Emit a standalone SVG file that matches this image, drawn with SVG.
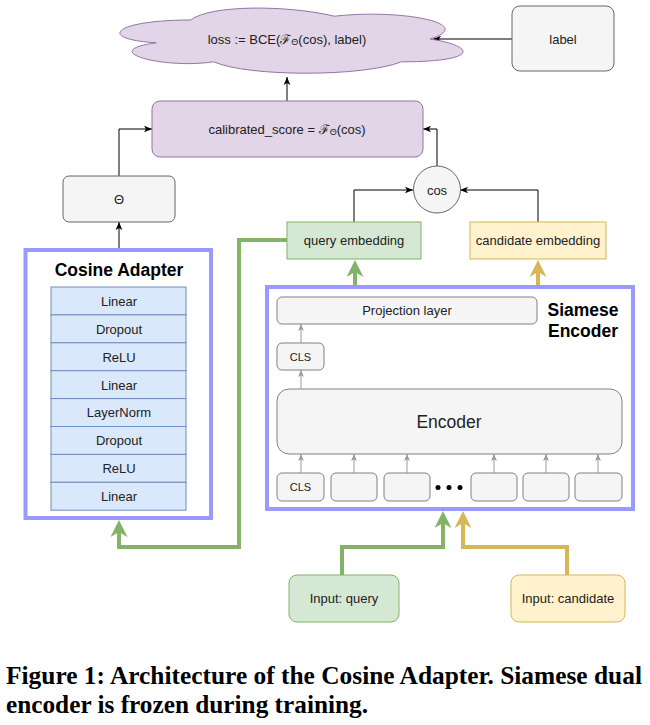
<svg xmlns="http://www.w3.org/2000/svg" width="650" height="725" viewBox="0 0 650 725">
<style>
text{font-family:"Liberation Sans",Arial,sans-serif;font-size:13px;fill:#222;text-anchor:middle;dominant-baseline:central}
.bold{font-weight:bold;font-size:17.5px;fill:#000}
.big{font-size:17.5px}
.small{font-size:11px}
.sub{font-size:9px}
.gray{fill:#f5f5f5;stroke:#666;stroke-width:1}
.tok{fill:#f5f5f5;stroke:#808080;stroke-width:1}
.purple{fill:#e1d5e7;stroke:#9673a6;stroke-width:1}
.green{fill:#d5e8d4;stroke:#82b366;stroke-width:1}
.yellow{fill:#fff2cc;stroke:#d6b656;stroke-width:1}
.layer{fill:#dae8fc;stroke:#6c8ebf;stroke-width:1}
.frame{fill:#fff;stroke:#9999ff;stroke-width:4}
.ck{fill:none;stroke:#000;stroke-width:1;marker-end:url(#aK)}
.cl{fill:none;stroke:#555;stroke-width:1.4;marker-end:url(#aK)}
.cg{fill:none;stroke:#999;stroke-width:1;marker-end:url(#aG)}
.cgr{fill:none;stroke:#82b366;stroke-width:4;marker-end:url(#aGr)}
.cy{fill:none;stroke:#d6b656;stroke-width:4;marker-end:url(#aY)}
.cap{font-family:"Liberation Serif","Times New Roman",serif;font-weight:bold;font-size:24.5px;fill:#000;text-anchor:start;dominant-baseline:auto}
</style>
<defs>
<marker id="aK" viewBox="0 0 10 10" refX="10" refY="5" markerWidth="8" markerHeight="8" markerUnits="userSpaceOnUse" orient="auto"><path d="M0,0.8 L10,5 L0,9.2 L2.5,5 Z" fill="#000"/></marker>
<marker id="aG" viewBox="0 0 10 10" refX="10" refY="5" markerWidth="7" markerHeight="7" markerUnits="userSpaceOnUse" orient="auto"><path d="M0,0.8 L10,5 L0,9.2 L2.5,5 Z" fill="#999"/></marker>
<marker id="aGr" viewBox="0 0 10 10" refX="3" refY="5" markerWidth="17" markerHeight="17" markerUnits="userSpaceOnUse" orient="auto"><path d="M0,0 L10,5 L0,10 L3,5 Z" fill="#82b366"/></marker>
<marker id="aY" viewBox="0 0 10 10" refX="3" refY="5" markerWidth="17" markerHeight="17" markerUnits="userSpaceOnUse" orient="auto"><path d="M0,0 L10,5 L0,10 L3,5 Z" fill="#d6b656"/></marker>
</defs>

<g id="connectors">
<path class="cl" d="M512,39 H433"/>
<path class="ck" d="M287,101 V77"/>
<path class="ck" d="M119,176 V129 H152"/>
<path class="ck" d="M119,248 V222"/>
<path class="ck" d="M437,166 V129 H423"/>
<path class="ck" d="M354,222 V190 H413"/>
<path class="ck" d="M538,222 V190 H460"/>
<path class="cgr" d="M287,240 H239 V547 H119 V532"/>
<path class="cgr" d="M355,285 V272"/>
<path class="cy" d="M538,285 V272"/>
<path class="cgr" d="M342,575 V547 H443 V523"/>
<path class="cy" d="M567,575 V547 H463 V523"/>
</g>

<g id="loss">
<path class="purple" d="M190.75,20 C114.15,20 95,39 156.28,42.8 C95,51.16 163.94,69.4 213.73,61.8 C248.2,77 363.1,77 401.4,61.8 C478,61.8 478,46.6 430.1,39 C478,23.8 401.4,8.6 334.4,16.2 C286.5,4.8 209.9,4.8 190.75,20 Z"/>
<text x="287" y="39">loss := BCE(ℱ<tspan class="sub" dy="3">Θ</tspan><tspan dy="-3">(cos), label)</tspan></text>
</g>

<g id="label">
<rect class="gray" x="512" y="6" width="102" height="65" rx="8"/>
<text x="563" y="39">label</text>
</g>

<g id="calibrated">
<rect class="purple" x="152" y="101" width="271" height="56" rx="8"/>
<text x="287" y="129">calibrated_score = ℱ<tspan class="sub" dy="3">Θ</tspan><tspan dy="-3">(cos)</tspan></text>
</g>

<g id="theta">
<rect class="gray" x="63" y="176" width="112" height="46" rx="6"/>
<text x="119" y="199">Θ</text>
</g>

<g id="cos">
<circle class="gray" cx="437" cy="189.5" r="23.5"/>
<text x="437" y="190">cos</text>
</g>

<g id="query-embedding">
<rect class="green" x="287" y="222" width="134" height="37"/>
<text x="354" y="240.5">query embedding</text>
</g>

<g id="candidate-embedding">
<rect class="yellow" x="470" y="222" width="136" height="37"/>
<text x="538" y="240.5">candidate embedding</text>
</g>

<g id="cosine-adapter">
<rect class="frame" x="25.5" y="250" width="185.5" height="268"/>
<text class="bold" x="119" y="270">Cosine Adapter</text>
<rect class="layer" x="51" y="287" width="135" height="27.9"/>
<rect class="layer" x="51" y="314.9" width="135" height="27.9"/>
<rect class="layer" x="51" y="342.8" width="135" height="27.9"/>
<rect class="layer" x="51" y="370.7" width="135" height="27.9"/>
<rect class="layer" x="51" y="398.6" width="135" height="27.9"/>
<rect class="layer" x="51" y="426.5" width="135" height="27.9"/>
<rect class="layer" x="51" y="454.4" width="135" height="27.9"/>
<rect class="layer" x="51" y="482.3" width="135" height="27.9"/>
<text x="119" y="301">Linear</text>
<text x="119" y="329">Dropout</text>
<text x="119" y="357">ReLU</text>
<text x="119" y="385">Linear</text>
<text x="119" y="412.5">LayerNorm</text>
<text x="119" y="440.5">Dropout</text>
<text x="119" y="468.5">ReLU</text>
<text x="119" y="496">Linear</text>
</g>

<g id="siamese-encoder">
<rect class="frame" x="267" y="287" width="366" height="222"/>
<text class="bold" x="583" y="310">Siamese</text>
<text class="bold" x="583" y="331">Encoder</text>
<rect class="tok" x="277" y="297" width="260" height="27" rx="5"/>
<text x="407" y="310.5">Projection layer</text>
<rect class="tok" x="277" y="343" width="47" height="27" rx="5"/>
<text class="small" x="300.5" y="356.5">CLS</text>
<rect class="tok" x="277" y="389" width="345" height="65" rx="12"/>
<text class="big" x="449" y="422">Encoder</text>
<rect class="tok" x="277" y="473" width="47" height="28" rx="5"/>
<text class="small" x="300.5" y="487">CLS</text>
<rect class="tok" x="331" y="473" width="46" height="28" rx="5"/>
<rect class="tok" x="384" y="473" width="46" height="28" rx="5"/>
<rect class="tok" x="471" y="473" width="46" height="28" rx="5"/>
<rect class="tok" x="523" y="473" width="46" height="28" rx="5"/>
<rect class="tok" x="575" y="473" width="47" height="28" rx="5"/>
<circle cx="438" cy="487.5" r="2.5" fill="#000"/>
<circle cx="449" cy="487.5" r="2.5" fill="#000"/>
<circle cx="460" cy="487.5" r="2.5" fill="#000"/>
<path class="cg" d="M301,343 V324"/>
<path class="cg" d="M301,389 V370"/>
<path class="cg" d="M301,473 V454"/>
<path class="cg" d="M354,473 V454"/>
<path class="cg" d="M407,473 V454"/>
<path class="cg" d="M494,473 V454"/>
<path class="cg" d="M546,473 V454"/>
<path class="cg" d="M598,473 V454"/>
</g>

<g id="input-query">
<rect class="green" x="289" y="575" width="110" height="47" rx="8"/>
<text x="344" y="598.5">Input: query</text>
</g>

<g id="input-candidate">
<rect class="yellow" x="511" y="575" width="114" height="47" rx="8"/>
<text x="568" y="598.5">Input: candidate</text>
</g>

<g id="caption">
<text class="cap" x="6" y="684" textLength="636" lengthAdjust="spacingAndGlyphs">Figure 1: Architecture of the Cosine Adapter. Siamese dual</text>
<text class="cap" x="6" y="713" textLength="362" lengthAdjust="spacingAndGlyphs">encoder is frozen during training.</text>
</g>
</svg>
